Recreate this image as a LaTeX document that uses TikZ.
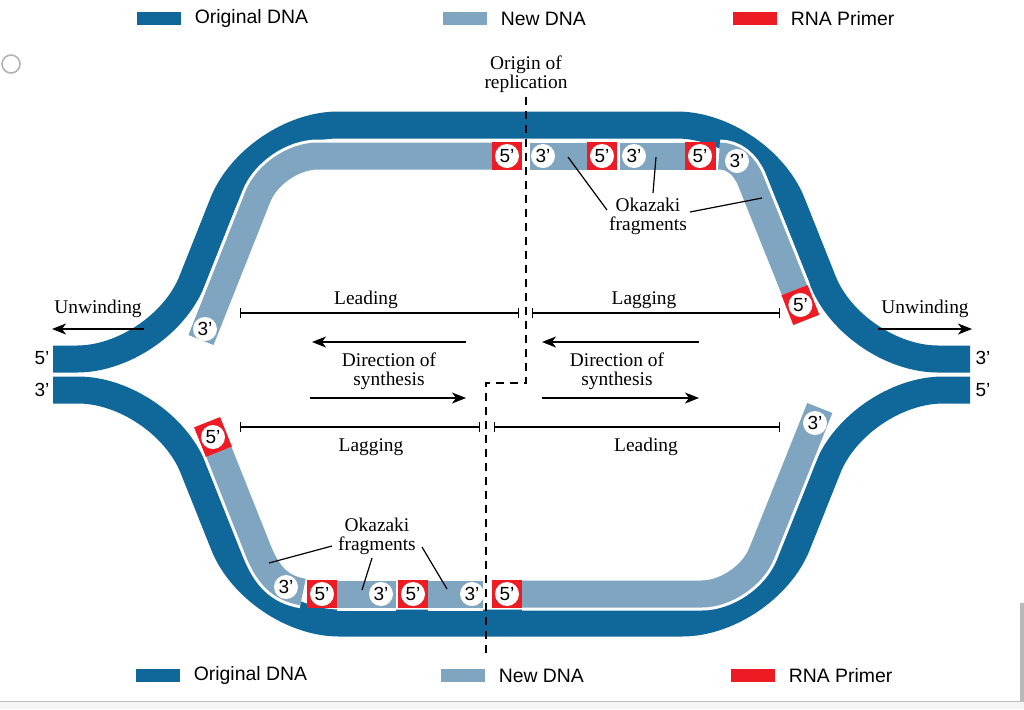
\documentclass[tikz,border=0pt]{standalone}
\usepackage{fontspec}
\setmainfont{Liberation Serif}
\setsansfont{Liberation Sans}
\usetikzlibrary{arrows.meta,positioning}
\definecolor{olddna}{RGB}{16,103,153}
\definecolor{newdna}{RGB}{127,165,192}
\definecolor{rnared}{RGB}{237,28,36}
\tikzset{
  oldstrand/.style={draw=olddna, line width=13.5pt, rounded corners=42pt},
  newstrand/.style={draw=newdna, line width=13.5pt, rounded corners=22pt,
    preaction={draw=white, line width=16.5pt}},
  primerbox/.style={draw=rnared, line width=14pt},
  endlabel/.style={circle, fill=white, inner sep=0pt, minimum size=12pt,
    font=\sffamily\fontsize{9.5}{9.5}\selectfont},
  strandend/.style={font=\sffamily\fontsize{9.5}{9.5}\selectfont},
  caption/.style={font=\fontsize{9.7}{9.5}\selectfont, align=center, inner sep=0pt},
  legendkey/.style={minimum width=22pt, minimum height=6.5pt, inner sep=0pt},
  legendtext/.style={font=\sffamily\fontsize{9.7}{9.7}\selectfont, inner sep=0pt},
  span/.style={{Bar[width=5pt]}-{Bar[width=5pt]}, line width=0.7pt},
  flow/.style={-{Stealth[length=7pt,width=5.5pt,inset=2pt]}, line width=0.8pt},
  pointer/.style={line width=0.6pt},
  origin/.style={dash pattern=on 4pt off 3pt, line width=0.75pt}
}
\begin{document}
\begin{tikzpicture}[x=0.5pt, y=-0.5pt]
  \useasboundingbox (0,0) rectangle (1024,709);
  % page edge
  \fill[gray!8] (0,702) rectangle (1024,709);
  \draw[gray!50, line width=0.6pt] (0,701.5) -- (1024,701.5);
  \fill[gray!55] (1020,603) rectangle (1024,701);
  \draw[gray!60, line width=0.8pt] (11,64) circle (9);

  % legends
  \node[legendkey, fill=olddna] (keyoldtop) at (159,18.5) {};
  \node[legendtext, right=6.5pt of keyoldtop] (txtoldtop) {Original DNA};
  \node[legendkey, fill=newdna] (keynewtop) at (465,18.5) {};
  \node[legendtext, right=6.5pt of keynewtop] (txtnewtop) {New DNA};
  \node[legendkey, fill=rnared] (keyrnatop) at (755,18.5) {};
  \node[legendtext, right=6.5pt of keyrnatop] (txtrnatop) {RNA Primer};
  \node[legendkey, fill=olddna] (keyoldbot) at (158,675.5) {};
  \node[legendtext, right=6.5pt of keyoldbot] (txtoldbot) {Original DNA};
  \node[legendkey, fill=newdna] (keynewbot) at (463,675.5) {};
  \node[legendtext, right=6.5pt of keynewbot] (txtnewbot) {New DNA};
  \node[legendkey, fill=rnared] (keyrnabot) at (753,675.5) {};
  \node[legendtext, right=6.5pt of keyrnabot] (txtrnabot) {RNA Primer};

  % parental strands
  \draw[oldstrand] (53,359) -- (161,359) -- (254,125) -- (761,125) -- (854,359) -- (970,359);
  \draw[oldstrand] (53,390) -- (162,390) -- (255,623) -- (766,623) -- (859,390) -- (970,390);

  % new strands
  \draw[newstrand] (492,156) -- (274,156) -- (201,340);
  \draw[newstrand] (530,156) -- (587,156);
  \draw[newstrand] (620,156) -- (685,156);
  \draw[newstrand, sharp corners] (719,156) .. controls (733,156) and (744,165) .. (750.4,180)
    -- (794.5,290.1);
  \draw[newstrand, sharp corners] (218.9,451.8) -- (258,550)
    .. controls (268,575) and (280,588) .. (303,592);
  \draw[newstrand] (337,594) -- (396,594);
  \draw[newstrand] (428,594) -- (483,594);
  \draw[newstrand] (522,594) -- (745.4,594) -- (819.8,408);

  % primers
  \foreach \a/\b in {492/522, 587/617, 685/716}
    \draw[primerbox] (\a,156) -- (\b,156);
  \foreach \a/\b in {307/337, 398/428, 492/522}
    \draw[primerbox] (\a,594) -- (\b,594);
  \draw[primerbox] (794.5,290.1) -- (806.3,319.9);
  \draw[primerbox] (207.1,422.2) -- (218.9,451.8);

  % end labels
  \foreach \p [count=\i] in {(507,156),(602,156),(700,156),(800.4,305),
      (213,437),(322,594),(413,594),(507,594)}
    \node[endlabel] (five\i) at \p {5’};
  \foreach \p [count=\i] in {(543,156),(634,156),(737,161),(205,329),
      (286,587),(381,594),(472,594),(815,423)}
    \node[endlabel] (three\i) at \p {3’};

  \node[strandend] (lfive) at (42,358) {5’};
  \node[strandend] (lthree) at (42,390) {3’};
  \node[strandend] (rthree) at (983,358) {3’};
  \node[strandend] (rfive) at (983,390) {5’};

  % unwinding
  \node[caption] (unwl) at (98,309) {Unwinding};
  \node[caption] (unwr) at (925,309) {Unwinding};
  \coordinate (unwlA) at (144,329);
  \coordinate (unwlB) at (52,329);
  \coordinate (unwrA) at (878,329);
  \coordinate (unwrB) at (972,329);
  \draw[flow] (unwlA) -- (unwlB);
  \draw[flow] (unwrA) -- (unwrB);

  % origin
  \node[caption] (origin) at (526,74.5) {Origin of\\replication};
  \coordinate (orA) at (526,97);
  \coordinate (orB) at (526,383);
  \coordinate (orC) at (486,383);
  \coordinate (orD) at (486,658);
  \draw[origin] (orA) -- (orB) -- (orC) -- (orD);

  % spans
  \node[caption] (leadtop) at (366,300) {Leading};
  \node[caption] (lagtop) at (644,300) {Lagging};
  \node[caption] (lagbot) at (371,447) {Lagging};
  \node[caption] (leadbot) at (646,447) {Leading};
  \coordinate (s1a) at (240,313); \coordinate (s1b) at (519,313);
  \coordinate (s2a) at (532,313); \coordinate (s2b) at (780,313);
  \coordinate (s3a) at (240,427); \coordinate (s3b) at (480,427);
  \coordinate (s4a) at (494,427); \coordinate (s4b) at (780,427);
  \draw[span] (s1a) -- (s1b);
  \draw[span] (s2a) -- (s2b);
  \draw[span] (s3a) -- (s3b);
  \draw[span] (s4a) -- (s4b);

  % direction of synthesis
  \node[caption] (dirl) at (389,371.5) {Direction of\\synthesis};
  \node[caption] (dirr) at (617,371.5) {Direction of\\synthesis};
  \coordinate (d1a) at (466,342); \coordinate (d1b) at (312,342);
  \coordinate (d2a) at (699,342); \coordinate (d2b) at (542,342);
  \coordinate (d3a) at (310,398); \coordinate (d3b) at (466,398);
  \coordinate (d4a) at (542,398); \coordinate (d4b) at (699,398);
  \draw[flow] (d1a) -- (d1b);
  \draw[flow] (d2a) -- (d2b);
  \draw[flow] (d3a) -- (d3b);
  \draw[flow] (d4a) -- (d4b);

  % okazaki fragments
  \node[caption] (okatop) at (648,216) {Okazaki\\fragments};
  \coordinate (ot1) at (607,210); \coordinate (ft1) at (568,157);
  \coordinate (ot2) at (653,193); \coordinate (ft2) at (656,157);
  \coordinate (ot3) at (690,212); \coordinate (ft3) at (762,198);
  \draw[pointer] (ot1) -- (ft1);
  \draw[pointer] (ot2) -- (ft2);
  \draw[pointer] (ot3) -- (ft3);
  \node[caption] (okabot) at (377,536) {Okazaki\\fragments};
  \coordinate (ob1) at (332,546); \coordinate (fb1) at (269,563);
  \coordinate (ob2) at (372,558); \coordinate (fb2) at (362,590);
  \coordinate (ob3) at (422,547); \coordinate (fb3) at (447,589);
  \draw[pointer] (ob1) -- (fb1);
  \draw[pointer] (ob2) -- (fb2);
  \draw[pointer] (ob3) -- (fb3);
\end{tikzpicture}
\end{document}
